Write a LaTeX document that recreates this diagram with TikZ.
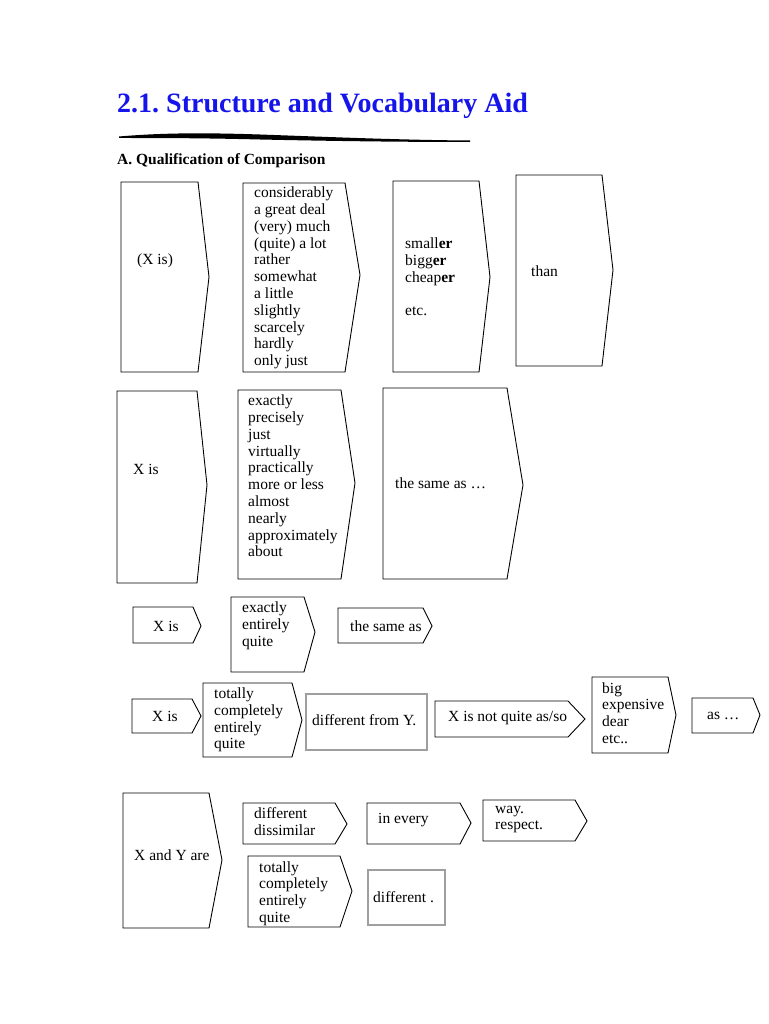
\documentclass[tikz,border=0pt]{standalone}
\usepackage{fontspec}
\setmainfont{Liberation Serif}
\frenchspacing
\newcommand\mychev[6]{\draw[box] (#1,#2) -- (#3,#2) -- (#5,#6) -- (#3,#4) -- (#1,#4) -- cycle;}
\begin{document}
\begin{tikzpicture}[x=1pt,y=-1pt,
  box/.style={draw=black, line width=0.9pt, line join=miter},
  rbox/.style={draw=gray!75, line width=1.6pt},
  txt/.style={anchor=west, inner sep=0pt, align=left, font=\fontsize{15.5}{16.8}\selectfont},
]
\useasboundingbox[fill=white] (0,0) rectangle (768,1024);
% title
\node[anchor=base west, inner sep=0pt, text={rgb,255:red,20;green,20;blue,235}, font=\bfseries\fontsize{28}{30}\selectfont] (title) at (117,113) {2.1. Structure and Vocabulary Aid};
\fill[black] (119,136.5) .. controls (160,133) and (200,132.5) .. (260,134.5) .. controls (330,137) and (400,140) .. (470,140.5)
  -- (470,142) .. controls (400,142) and (330,141) .. (260,139.5) .. controls (200,138) and (160,138) .. (119,138) -- cycle;
\node[txt, font=\bfseries\fontsize{15.5}{16.8}\selectfont] (sub) at (117,161) {A. Qualification of Comparison};

% row 1
\mychev{121}{182}{198}{372}{209}{277}
\mychev{243}{183}{345}{372}{360}{275}
\mychev{393}{181}{479}{372}{490}{277}
\mychev{516}{175}{602}{366}{613}{270}
\node[txt] (r1a) at (137,261) {(X is)};
\node[txt] (r1b) at (254,278) {considerably\\a great deal\\(very) much\\(quite) a lot\\rather\\somewhat\\a little\\slightly\\scarcely\\hardly\\only just};
\node[txt] (r1c) at (405,277) {small\textbf{er}\\bigg\textbf{er}\\cheap\textbf{er}\\[16.8pt]etc.};
\node[txt] (r1d) at (531,271) {than};

% row 2
\mychev{117}{391}{197}{583}{207}{485}
\mychev{238}{390}{341}{579}{355}{483}
\mychev{383}{388}{507}{579}{523}{485}
\node[txt] (r2a) at (133,469) {X is};
\node[txt] (r2b) at (248,476) {exactly\\precisely\\just\\virtually\\practically\\more or less\\almost\\nearly\\approximately\\about};
\node[txt] (r2c) at (395,483) {the same as …};

% row 3
\mychev{133}{607}{193}{643}{201}{626}
\mychev{231}{597}{304}{672}{315}{632}
\mychev{338}{608}{423}{643}{432}{626}
\node[txt] (r3a) at (153,626) {X is};
\node[txt] (r3b) at (242,626) {exactly\\entirely\\quite};
\node[txt] (r3c) at (350,626) {the same as};

% row 4
\mychev{132}{699}{192}{733}{201}{716}
\mychev{203}{683}{292}{757}{302}{720}
\draw[rbox] (306,694) rectangle (427,750);
\mychev{435}{701}{568}{737}{585}{719}
\mychev{592}{677}{668}{753}{676}{715}
\mychev{692}{698}{753}{733}{760}{715}
\node[txt] (r4a) at (152,716) {X is};
\node[txt] (r4b) at (214,720) {totally\\completely\\entirely\\quite};
\node[txt] (r4c) at (312,720) {different from Y.};
\node[txt] (r4d) at (448,718) {X is not quite as/so};
\node[txt] (r4e) at (602,713) {big\\expensive\\dear\\etc..};
\node[txt] (r4f) at (707,716) {as …};

% row 5
\mychev{123}{793}{209}{928}{222}{860}
\mychev{243}{803}{335}{844}{347}{824}
\mychev{367}{803}{460}{844}{471}{823}
\mychev{483}{800}{575}{841}{587}{821}
\mychev{248}{856}{340}{927}{352}{891}
\draw[rbox] (368,870) rectangle (445,925);
\node[txt] (r5a) at (134,855) {X and Y are};
\node[txt] (r5b) at (254,821.5) {different\\dissimilar};
\node[txt] (r5c) at (378,820) {in every};
\node[txt] (r5d) at (495,819.5) {way.\\respect.};
\node[txt] (r5e) at (259,893.5) {totally\\completely\\entirely\\quite};
\node[txt] (r5f) at (373,897) {different .};
\end{tikzpicture}
\end{document}
